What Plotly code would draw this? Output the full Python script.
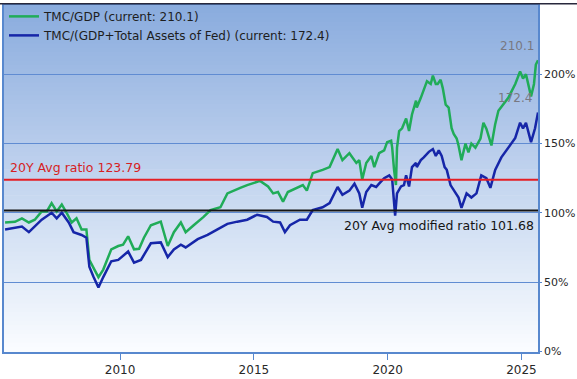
import plotly.graph_objects as go

# ---- data (decimal years, percent) ----
tmc_gdp_x = [2005.70, 2006.07, 2006.33, 2006.59, 2006.81, 2007.07, 2007.26, 2007.44, 2007.63, 2007.82,
             2008.00, 2008.19, 2008.37, 2008.56, 2008.74, 2008.85, 2009.04, 2009.19, 2009.37, 2009.67,
             2009.93, 2010.11, 2010.30, 2010.52, 2010.71, 2010.89, 2011.15, 2011.52, 2011.78, 2012.01,
             2012.27, 2012.45, 2012.75, 2013.12, 2013.38, 2013.75, 2014.01, 2014.23, 2014.49, 2014.75,
             2015.05, 2015.23, 2015.53, 2015.72, 2015.90, 2016.09, 2016.27, 2016.61, 2016.83, 2016.98,
             2017.20, 2017.57, 2017.83, 2018.13, 2018.31, 2018.57, 2018.83, 2018.94, 2019.05, 2019.20,
             2019.39, 2019.50, 2019.68, 2019.87, 2019.98, 2020.13, 2020.17, 2020.24, 2020.31, 2020.35,
             2020.43, 2020.54, 2020.69, 2020.80, 2020.91, 2021.06, 2021.09, 2021.24, 2021.35, 2021.47,
             2021.61, 2021.69, 2021.80, 2021.87, 2021.98, 2022.06, 2022.17, 2022.28, 2022.39, 2022.47,
             2022.58, 2022.65, 2022.76, 2022.91, 2023.02, 2023.13, 2023.28, 2023.47, 2023.58, 2023.69,
             2023.88, 2024.02, 2024.14, 2024.32, 2024.51, 2024.77, 2024.95, 2025.06, 2025.17, 2025.29,
             2025.36, 2025.47, 2025.54, 2025.62]
tmc_gdp_y = [93, 93.5, 96, 93, 95, 101, 101, 107, 101, 106,
             100, 93, 96, 88, 88, 66, 59, 53.5, 59, 73.6,
             76, 77, 83, 73.6, 74, 82, 91, 93.6, 76, 86,
             93, 86, 91, 97, 102, 104, 114, 116, 118, 120,
             122, 123, 119, 114, 115, 108, 115, 118, 120, 116,
             128.6, 131, 133, 146, 138, 143, 136, 138, 124, 136,
             141, 133, 143, 145, 151, 152, 147, 131, 120, 147,
             159, 161, 168, 159, 171, 181, 176, 183, 189, 195,
             193, 199, 193, 193, 196, 190, 178, 176, 161, 157,
             153.6, 148.6, 138, 150, 143.6, 150, 147, 153.6, 165, 160.7,
             148.6, 164, 173.6, 178.6, 183, 193, 202, 197, 200, 190,
             184, 193, 207, 210.1]

tmc_fed_x = [2005.70, 2006.07, 2006.33, 2006.59, 2006.81, 2007.07, 2007.44, 2007.63, 2007.82, 2008.08,
             2008.26, 2008.56, 2008.74, 2008.85, 2009.00, 2009.19, 2009.37, 2009.67, 2009.93, 2010.30,
             2010.52, 2010.78, 2011.15, 2011.52, 2011.78, 2012.01, 2012.27, 2012.45, 2012.90, 2013.27,
             2013.64, 2014.01, 2014.38, 2014.75, 2015.12, 2015.49, 2015.72, 2015.98, 2016.16, 2016.35,
             2016.72, 2016.98, 2017.20, 2017.57, 2017.83, 2018.13, 2018.31, 2018.57, 2018.76, 2018.94,
             2019.05, 2019.20, 2019.39, 2019.57, 2019.68, 2019.87, 2020.06, 2020.17, 2020.28, 2020.35,
             2020.50, 2020.61, 2020.69, 2020.80, 2020.91, 2021.06, 2021.09, 2021.24, 2021.35, 2021.54,
             2021.69, 2021.80, 2021.91, 2022.02, 2022.13, 2022.21, 2022.35, 2022.54, 2022.65, 2022.76,
             2022.95, 2023.13, 2023.32, 2023.50, 2023.69, 2023.84, 2024.02, 2024.25, 2024.51, 2024.77,
             2024.95, 2025.06, 2025.17, 2025.36, 2025.51, 2025.62]
tmc_fed_y = [88, 89, 90, 86, 90, 95, 100, 96, 100, 93,
             86, 84, 82, 61, 54, 46, 53.6, 65, 66, 72,
             64, 66, 78, 78.6, 68, 73.6, 77, 75, 81, 84,
             88, 92, 93.6, 95, 98.6, 97, 93.6, 93, 86, 91,
             95, 95, 102, 104, 107, 118.6, 113, 116, 121, 114,
             103.6, 115, 120, 118.6, 121, 125, 127, 124, 98, 114,
             119, 120, 127, 119, 133, 136, 133, 138, 140, 144,
             146, 141, 145, 141, 133, 131, 120, 114, 111, 103.6,
             114, 111, 114, 127, 125, 118, 131, 140, 147, 154,
             165, 161, 165, 151, 161, 172.4]

avg_ratio = 123.79
avg_modified_ratio = 101.68
x_tick_vals = [2010, 2015, 2020, 2025]
x_tick_text = ["2010", "2015", "2020", "2025"]
y_tick_vals = [0, 50, 100, 150, 200]
y_tick_text = ["0%", "50%", "100%", "150%", "200%"]

GREEN = "rgb(32,172,88)"
BLUE = "rgb(22,38,168)"
FRAME = "rgb(88,136,206)"
FONT = "DejaVu Sans"

fig = go.Figure()
fig.add_trace(go.Scatter(x=tmc_gdp_x, y=tmc_gdp_y, mode="lines",
                         line=dict(color=GREEN, width=2.5),
                         name="TMC/GDP (current: 210.1)"))
fig.add_trace(go.Scatter(x=tmc_fed_x, y=tmc_fed_y, mode="lines",
                         line=dict(color=BLUE, width=2.5),
                         name="TMC/(GDP+Total Assets of Fed) (current: 172.4)"))

shapes = []
# vertical gradient background of the plot area
n = 80
top = (138, 172, 222)
bot = (250, 252, 255)
for i in range(n):
    t = i / (n - 1)
    c = tuple(round(top[k] + (bot[k] - top[k]) * t) for k in range(3))
    shapes.append(dict(type="rect", xref="paper", yref="paper", x0=0, x1=1,
                       y0=1 - (i + 1) / n, y1=1 - i / n + 0.002,
                       fillcolor="rgb(%d,%d,%d)" % c, line=dict(width=0), layer="below"))
# average lines
shapes.append(dict(type="line", xref="paper", yref="y", x0=0, x1=1, y0=avg_ratio, y1=avg_ratio,
                   line=dict(color="rgb(228,30,36)", width=2)))
shapes.append(dict(type="line", xref="paper", yref="y", x0=0, x1=1, y0=avg_modified_ratio,
                   y1=avg_modified_ratio, line=dict(color="rgb(20,20,20)", width=2)))
# thin outer top border of the image
shapes.append(dict(type="line", xref="paper", yref="paper", x0=-0.01, x1=1.08,
                   y0=1.0036, y1=1.0036, line=dict(color="rgb(40,40,60)", width=1.5)))

annotations = [
    dict(x=0, xref="paper", y=avg_ratio, yref="y", text="20Y Avg ratio 123.79",
         showarrow=False, xanchor="left", yanchor="middle", xshift=4, yshift=12,
         font=dict(family=FONT, size=12.5, color="rgb(214,30,36)")),
    dict(x=1, xref="paper", y=avg_modified_ratio, yref="y", text="20Y Avg modified ratio 101.68",
         showarrow=False, xanchor="right", yanchor="middle", xshift=-2, yshift=-15,
         font=dict(family=FONT, size=12.5, color="rgb(20,20,20)")),
    dict(x=tmc_gdp_x[-1], y=tmc_gdp_y[-1], text="210.1", showarrow=False,
         xanchor="right", yanchor="middle", xshift=-2, yshift=14,
         font=dict(family=FONT, size=12, color="rgb(120,120,130)")),
    dict(x=tmc_fed_x[-1], y=tmc_fed_y[-1], text="172.4", showarrow=False,
         xanchor="right", yanchor="middle", xshift=-4, yshift=14,
         font=dict(family=FONT, size=12, color="rgb(120,120,130)")),
]

fig.update_layout(
    width=577, height=379,
    margin=dict(l=2, r=37, t=2, b=25),
    paper_bgcolor="white",
    plot_bgcolor="rgba(0,0,0,0)",
    font=dict(family=FONT, size=12, color="rgb(40,40,40)"),
    showlegend=True,
    legend=dict(x=0.0, y=1.009, xanchor="left", yanchor="top",
                bgcolor="rgba(0,0,0,0)", font=dict(family=FONT, size=12, color="rgb(30,30,30)"),
                itemwidth=30, tracegroupgap=0),
    shapes=shapes,
    annotations=annotations,
    xaxis=dict(range=[2005.66, 2025.62], tickvals=x_tick_vals, ticktext=x_tick_text,
               showgrid=False, zeroline=False, showline=True, linecolor=FRAME, linewidth=1.5,
               mirror=True, ticks="outside", ticklen=6, tickcolor=FRAME,
               tickfont=dict(family=FONT, size=12, color="rgb(40,40,40)")),
    yaxis=dict(range=[-0.5, 250], tickvals=y_tick_vals, ticktext=y_tick_text, side="right",
               showgrid=True, gridcolor="rgb(96,140,210)", gridwidth=1, zeroline=False,
               showline=True, linecolor=FRAME, linewidth=1.5, mirror=True,
               ticks="outside", ticklen=2, tickcolor=FRAME,
               tickfont=dict(family=FONT, size=11, color="rgb(40,40,40)")),
)

fig.write_html("out.html", config={"displayModeBar": False},
               post_script="document.body.style.margin='0';document.body.style.overflow='hidden';"
                           "document.documentElement.style.overflow='hidden';")
